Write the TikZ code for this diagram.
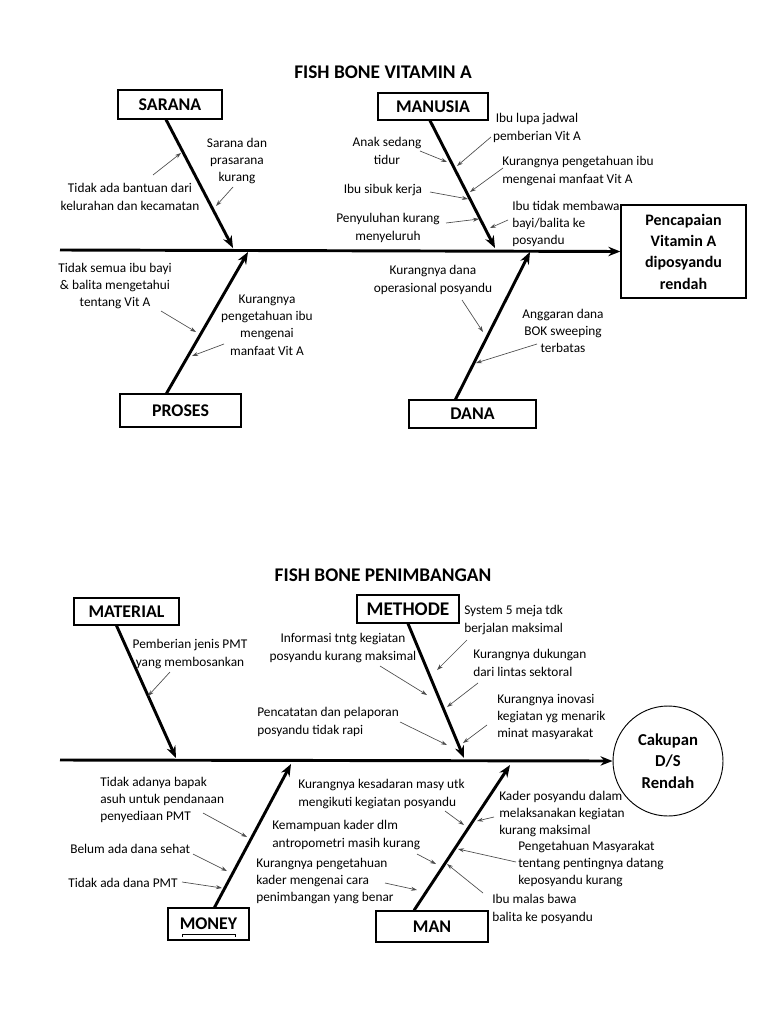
\documentclass[tikz,border=0pt]{standalone}
\usepackage{fontspec}
\setmainfont{Carlito}
\usetikzlibrary{arrows.meta,calc}

\tikzset{
  catbox/.style={draw, line width=0.9pt, inner sep=0.75pt, font=\bfseries\fontsize{13.4}{16}\selectfont},
  bone/.style={line width=2.2pt, -{Stealth[length=9pt,width=7pt]}},
  cause/.style={inner sep=0.75pt, font=\fontsize{10}{13}\selectfont},
  causearrow/.style={draw=black!70, line width=0.5pt, -{Stealth[length=4.5pt,width=3pt]}},
  heading/.style={inner sep=0.75pt, font=\bfseries\fontsize{14.5}{17}\selectfont},
}

\begin{document}
\begin{tikzpicture}[x=0.75pt,y=0.75pt,yscale=-1,xscale=1]
    \useasboundingbox (0,0) rectangle (768,1024);

    %%%%%%%%%%%%%%%% FISH BONE VITAMIN A %%%%%%%%%%%%%%%%
    \node [heading] (titleA) at (383,72) {FISH BONE VITAMIN A};

    % Category boxes
    \node [catbox, minimum width=78pt, minimum height=21.75pt] (sarana) at (170,104.5) {SARANA};
    \node [catbox, minimum width=82.5pt, minimum height=20.25pt] (manusia) at (433,106.5) {MANUSIA};
    \node [catbox, minimum width=90.75pt, minimum height=24.75pt] (proses) at (180.5,410.5) {PROSES};
    \node [catbox, minimum width=95.25pt, minimum height=21pt] (dana) at (472.5,414) {DANA};
    % Effect box
    \node [draw, line width=0.9pt, minimum width=93.75pt, minimum height=69.75pt, align=center,
           font=\bfseries\fontsize{12}{16}\selectfont] (vitA) at (683.5,251.5)
          {Pencapaian\\Vitamin A\\diposyandu\\rendah};

    % Spine
    \coordinate (tailA) at (60,250);
    \draw [bone] (tailA) -- (vitA.west);

    % Bones
    \coordinate (sarTip) at (233,248);
    \coordinate (manTip) at (495,248);
    \coordinate (proTip) at (248,252);
    \coordinate (danTip) at (530,252);
    \draw [bone] ($(sarana.south)+(-4,0)$) -- (sarTip);
    \draw [bone] ($(manusia.south)+(-3,0)$) -- (manTip);
    \draw [bone] ($(proses.north)+(-14,0)$) -- (proTip);
    \draw [bone] ($(dana.north)+(-17,0)$) -- (danTip);

    % Text Node
    \node [cause, align=center] (sarA) at (130,197) {Tidak ada bantuan dari\\kelurahan dan kecamatan};
    % Text Node
    \node [cause, align=center] (sarB) at (237,161) {Sarana dan\\prasarana\\kurang};
    % Text Node
    \node [cause, align=center] (manA) at (387,151) {Anak sedang\\tidur};
    % Text Node
    \node [cause, align=center] (manB) at (537,128) {Ibu lupa jadwal\\pemberian Vit A};
    % Text Node
    \node [cause, align=left, anchor=west] (manC) at (501,171) {Kurangnya pengetahuan ibu\\mengenai manfaat Vit A};
    % Text Node
    \node [cause] (manD) at (383,190) {Ibu sibuk kerja};
    % Text Node
    \node [cause, align=center] (manE) at (388,228) {Penyuluhan kurang\\menyeluruh};
    % Text Node
    \node [cause, align=left, anchor=west] (manF) at (511,224) {Ibu tidak membawa\\bayi/balita ke\\posyandu};
    % Text Node
    \node [cause, align=center] (proA) at (115,286) {Tidak semua ibu bayi\\\& balita mengetahui\\tentang Vit A};
    % Text Node
    \node [cause, align=center] (proB) at (267,325) {Kurangnya\\pengetahuan ibu\\mengenai\\manfaat Vit A};
    % Text Node
    \node [cause, align=center] (danA) at (433,280) {Kurangnya dana\\operasional posyandu};
    % Text Node
    \node [cause, align=center] (danB) at (563,331) {Anggaran dana\\BOK sweeping\\terbatas};

    % Cause arrows
    \coordinate (sarAs) at (153,175);  \coordinate (sarAt) at (181,153);
    \coordinate (sarBs) at (233,187);  \coordinate (sarBt) at (216,206);
    \coordinate (manAs) at (420,151);  \coordinate (manAt) at (447,162);
    \coordinate (manBs) at (491,137);  \coordinate (manBt) at (457,166);
    \coordinate (manCs) at (503,168);  \coordinate (manCt) at (470,192);
    \coordinate (manDs) at (430,192);  \coordinate (manDt) at (468,199);
    \coordinate (manEs) at (446,223);  \coordinate (manEt) at (479,219);
    \coordinate (manFs) at (508,220);  \coordinate (manFt) at (490,228);
    \coordinate (proAs) at (161,311);  \coordinate (proAt) at (196,332);
    \coordinate (proBs) at (224,344);  \coordinate (proBt) at (192,356);
    \coordinate (danAs) at (462,300);  \coordinate (danAt) at (483,332);
    \coordinate (danBs) at (537,344);  \coordinate (danBt) at (476,363);
    \foreach \c in {sarA,sarB,manA,manB,manC,manD,manE,manF,proA,proB,danA,danB}
      \draw [causearrow] (\c s) -- (\c t);

    %%%%%%%%%%%%%%%% FISH BONE PENIMBANGAN %%%%%%%%%%%%%%%%
    \node [heading] (titleB) at (383,575) {FISH BONE PENIMBANGAN};

    % Category boxes
    \node [catbox, minimum width=78.75pt, minimum height=20.25pt] (material) at (126.5,611.5) {MATERIAL};
    \node [catbox, minimum width=76.5pt, minimum height=21pt, font=\bfseries\fontsize{14.5}{17}\selectfont] (methode) at (408,609) {METHODE};
    \node [catbox, minimum width=60.75pt, minimum height=24pt] (money) at (208.5,924) {MONEY};
    \node [catbox, minimum width=84pt, minimum height=23.25pt] (man) at (432,926.5) {MAN};
    % Effect circle
    \node [draw, circle, line width=0.7pt, minimum size=82.5pt, align=center,
           font=\bfseries\fontsize{12.5}{16}\selectfont] (cakupan) at (668,761)
          {Cakupan\\D/S\\Rendah};
    % mark under MONEY
    \draw [line width=0.5pt] (182,937) |- (235,934) -- (235,937);

    % Spine
    \coordinate (tailB) at (60,760);
    \draw [bone] (tailB) -- (cakupan.west);

    % Bones
    \coordinate (matTip) at (176,758);
    \coordinate (metTip) at (464,758);
    \coordinate (monTip) at (291,764);
    \coordinate (maTip) at (510,765);
    \draw [bone] ($(material.south)+(-10,0)$) -- (matTip);
    \draw [bone] (methode.south) -- (metTip);
    \draw [bone] ($(money.north)+(6,0)$) -- (monTip);
    \draw [bone] ($(man.north)+(-18,0)$) -- (maTip);

    % Text Node
    \node [cause, align=center] (matA) at (190,654) {Pemberian jenis PMT\\yang membosankan};
    % Text Node
    \node [cause, align=left, anchor=west] (metA) at (463,620) {System 5 meja tdk\\berjalan maksimal};
    % Text Node
    \node [cause, align=center] (metB) at (343,648) {Informasi tntg kegiatan\\posyandu kurang maksimal};
    % Text Node
    \node [cause, align=left, anchor=west] (metC) at (472,663) {Kurangnya dukungan\\dari lintas sektoral};
    % Text Node
    \node [cause, align=left, anchor=west] (metD) at (256,722) {Pencatatan dan pelaporan\\posyandu tidak rapi};
    % Text Node
    \node [cause, align=left, anchor=west] (metE) at (496,717) {Kurangnya inovasi\\kegiatan yg menarik\\minat masyarakat};
    % Text Node
    \node [cause, align=left, anchor=west] (monA) at (99,800) {Tidak adanya bapak\\asuh untuk pendanaan\\penyediaan PMT};
    % Text Node
    \node [cause, anchor=west] (monB) at (69,849) {Belum ada dana sehat};
    % Text Node
    \node [cause, anchor=west] (monC) at (67,883) {Tidak ada dana PMT};
    % Text Node
    \node [cause, align=left, anchor=west] (maA) at (297,794) {Kurangnya kesadaran masy utk\\mengikuti kegiatan posyandu};
    % Text Node
    \node [cause, align=left, anchor=west] (maB) at (271,835) {Kemampuan kader dlm\\antropometri masih kurang};
    % Text Node
    \node [cause, align=left, anchor=west] (maC) at (255,881) {Kurangnya pengetahuan\\kader mengenai cara\\penimbangan yang benar};
    % Text Node
    \node [cause, align=left, anchor=west] (maD) at (498,814) {Kader posyandu dalam\\melaksanakan kegiatan\\kurang maksimal};
    % Text Node
    \node [cause, align=left, anchor=west] (maE) at (517,864) {Pengetahuan Masyarakat\\tentang pentingnya datang\\keposyandu kurang};
    % Text Node
    \node [cause, align=left, anchor=west] (maF) at (491,909) {Ibu malas bawa\\balita ke posyandu};

    % Cause arrows
    \coordinate (matAs) at (170,672);  \coordinate (matAt) at (148,696);
    \coordinate (metAs) at (467,640);  \coordinate (metAt) at (437,670);
    \coordinate (metBs) at (380,666);  \coordinate (metBt) at (427,695);
    \coordinate (metCs) at (478,683);  \coordinate (metCt) at (447,707);
    \coordinate (metDs) at (400,722);  \coordinate (metDt) at (447,745);
    \coordinate (metEs) at (487,725);  \coordinate (metEt) at (463,743);
    \coordinate (monAs) at (203,813);  \coordinate (monAt) at (247,837);
    \coordinate (monBs) at (193,854);  \coordinate (monBt) at (227,871);
    \coordinate (monCs) at (182,882);  \coordinate (monCt) at (222,888);
    \coordinate (maAs) at (445,811);   \coordinate (maAt) at (464,825);
    \coordinate (maBs) at (417,854);   \coordinate (maBt) at (436,864);
    \coordinate (maCs) at (385,883);   \coordinate (maCt) at (417,890);
    \coordinate (maDs) at (494,817);   \coordinate (maDt) at (477,821);
    \coordinate (maEs) at (516,862);   \coordinate (maEt) at (458,849);
    \coordinate (maFs) at (483,893);   \coordinate (maFt) at (447,864);
    \foreach \c in {matA,metA,metB,metC,metD,metE,monA,monB,monC,maA,maB,maC,maD,maE,maF}
      \draw [causearrow] (\c s) -- (\c t);

\end{tikzpicture}
\end{document}
